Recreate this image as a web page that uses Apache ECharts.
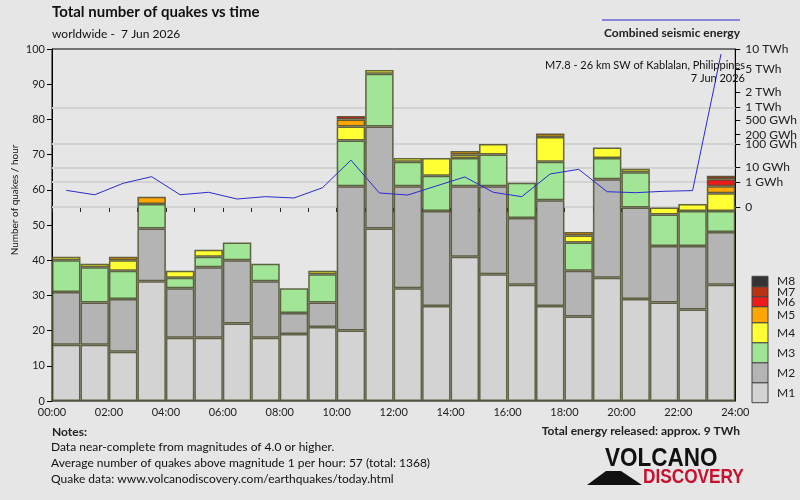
<!DOCTYPE html>
<html>
<head>
<meta charset="utf-8">
<script src="https://cdn.jsdelivr.net/npm/echarts@6/dist/echarts.min.js"></script>
<style>
html,body{margin:0;padding:0;background:#e6e6e6;}
#chart{width:800px;height:500px;}
</style>
</head>
<body>
<div id="chart"></div>
<script>
// ---- data ----
const hourCategories = ['00','01','02','03','04','05','06','07','08','09','10','11','12','13','14','15','16','17','18','19','20','21','22','23'];
const xTickLabels = ['00:00','02:00','04:00','06:00','08:00','10:00','12:00','14:00','16:00','18:00','20:00','22:00','24:00'];
const m1 = [16,16,14,34,18,18,22,18,19,21,20,49,32,27,41,36,33,27,24,35,29,28,26,33];
const m2 = [15,12,15,15,14,20,18,16,6,7,41,29,29,27,20,25,19,30,13,28,26,16,18,15];
const m3 = [9,10,8,7,3,3,5,5,7,8,13,15,7,10,8,9,10,11,8,6,10,9,10,6];
const m4 = [1,1,3,0,2,2,0,0,0,1,4,1,1,5,1,3,0,7,2,3,1,2,2,5];
const m5 = [0,0,1,2,0,0,0,0,0,0,2,0,0,0,1,0,0,1,1,0,0,0,0,2];
const m6 = [0,0,0,0,0,0,0,0,0,0,1,0,0,0,0,0,0,0,0,0,0,0,0,2];
const m7 = [0,0,0,0,0,0,0,0,0,0,0,0,0,0,0,0,0,0,0,0,0,0,0,1];
const m8 = [0,0,0,0,0,0,0,0,0,0,0,0,0,0,0,0,0,0,0,0,0,0,0,0];
// combined seismic energy per hour, in GWh
const energyGWh = [0.13,0.028,0.76,2.6,0.028,0.07,0.0033,0.012,0.006,0.27,23,0.055,0.025,0.42,2.5,0.07,0.012,4.0,7.7,0.085,0.061,0.097,0.12,8500];
const energyTicksGWh = [0,1,10,100,200,500,1000,2000,5000,10000];
const energyTickLabels = ['0','1 GWh','10 GWh','100 GWh','200 GWh','500 GWh','1 TWh','2 TWh','5 TWh','10 TWh'];
const energyGridGWh = [0,1,10,100,1000];
const quakeTicks = [0,10,20,30,40,50,60,70,80,90,100];

const magNames = ['M1','M2','M3','M4','M5','M6','M7','M8'];
const magColors = ['#d3d3d3','#b4b4b4','#a0e696','#ffff33','#ffa500','#ee1a1a','#b83214','#333333'];
const magData = [m1,m2,m3,m4,m5,m6,m7,m8];

// ---- helpers ----
const tf = e => Math.pow(e, 0.2);
const tMax = tf(10000);
const zeroFrac = (401 - 207) / 352;
const tMin = -tMax * zeroFrac / (1 - zeroFrac);
const FONT = 'Lato';

const chart = echarts.init(document.getElementById('chart'), null, {renderer:'canvas'});

const barSeries = magData.map((d, i) => ({
  name: magNames[i], type: 'bar', stack: 'q', xAxisIndex: 0, yAxisIndex: 0,
  data: d.map(v => (v === 0 ? '-' : v)), barWidth: '100%', z: 3,
  itemStyle: {color: magColors[i], borderColor: 'rgba(75,75,45,0.85)', borderWidth: 1.5},
  emphasis: {disabled: true}, silent: true
}));

const option = {
  backgroundColor: '#e6e6e6',
  animation: false,
  textStyle: {fontFamily: FONT},
  grid: {left: 52, right: 60, top: 49, bottom: 99, show: true, borderColor: '#000', borderWidth: 1, backgroundColor: 'transparent'},
  xAxis: [
    {type: 'category', data: hourCategories, boundaryGap: true, show: false},
    {type: 'value', min: 0, max: 24, interval: 1, position: 'bottom',
     axisLine: {show: true, lineStyle: {color: '#333', width: 2}},
     axisTick: {show: true, length: 5, lineStyle: {color: '#222'}},
     axisLabel: {fontSize: 11, color: '#222', fontFamily: FONT, margin: 6,
       formatter: v => (v % 2 === 0 ? xTickLabels[v / 2] : '')},
     splitLine: {show: false}}
  ],
  yAxis: [
    {type: 'value', min: 0, max: 100, interval: 10, position: 'left',
     axisLine: {show: true, lineStyle: {color: '#000'}},
     axisTick: {show: true, length: 5, lineStyle: {color: '#000'}},
     axisLabel: {fontSize: 11, color: '#222', fontFamily: FONT, margin: 7,
       formatter: v => String(quakeTicks[Math.round(v / 10)])},
     splitLine: {show: false}},
    {type: 'value', min: tMin, max: tMax, position: 'right',
     axisLine: {show: true, lineStyle: {color: '#000'}},
     axisTick: {show: true, length: 5, lineStyle: {color: '#000'}, customValues: energyTicksGWh.map(tf)},
     axisLabel: {fontSize: 12, color: '#222', fontFamily: FONT, margin: 10,
       customValues: energyTicksGWh.map(tf),
       formatter: v => {
         let best = 0, bd = 1e9;
         energyTicksGWh.forEach((e, i) => { const d = Math.abs(tf(e) - v); if (d < bd) { bd = d; best = i; } });
         return energyTickLabels[best];
       }},
     splitLine: {show: false}}
  ],
  series: [
    {type: 'line', name: 'grid', xAxisIndex: 0, yAxisIndex: 1, data: [], z: 1, silent: true,
     markLine: {silent: true, symbol: 'none', z: 1, label: {show: false},
       lineStyle: {color: '#d2d2d2', width: 2, type: 'solid'},
       data: energyGridGWh.map(e => ({yAxis: tf(e)}))}},
    ...barSeries,
    {type: 'line', name: 'Combined seismic energy', xAxisIndex: 0, yAxisIndex: 1,
     data: energyGWh.map(tf), showSymbol: false, symbol: 'none', z: 5, silent: true,
     lineStyle: {color: '#2b2bd0', width: 1}}
  ],
  graphic: [
    {type: 'text', left: 52, top: 5, style: {text: 'Total number of quakes vs time', font: 'bold 15px ' + FONT, fill: '#111'}},
    {type: 'text', left: 52, top: 28, style: {text: 'worldwide -  7 Jun 2026', font: '12px ' + FONT, fill: '#111'}},
    {type: 'line', shape: {x1: 602, y1: 20, x2: 740, y2: 20}, style: {stroke: '#2b2bd0', lineWidth: 1}},
    {type: 'text', x: 740, y: 33, style: {text: 'Combined seismic energy', font: 'bold 12px ' + FONT, fill: '#222', align: 'right', verticalAlign: 'middle'}},
    {type: 'text', x: 745, y: 65, style: {text: 'M7.8 - 26 km SW of Kablalan, Philippines', font: '11px ' + FONT, fill: '#111', align: 'right', verticalAlign: 'middle'}, z: 10},
    {type: 'text', x: 745, y: 78, style: {text: '7 Jun 2026', font: '11px ' + FONT, fill: '#111', align: 'right', verticalAlign: 'middle'}, z: 10},
    {type: 'text', x: 15, y: 200, rotation: Math.PI / 2, style: {text: 'Number of quakes / hour', font: '10px ' + FONT, fill: '#111', align: 'center', verticalAlign: 'middle'}},
    // magnitude legend
    ...(() => {
      const tops = [382.7, 362.7, 342.7, 322.7, 306.7, 296.7, 286.7, 276.3];
      const bottoms = [402.7, 382.7, 362.7, 342.7, 322.7, 306.7, 296.7, 286.7];
      const els = [];
      for (let i = 0; i < 8; i++) {
        els.push({type: 'rect', shape: {x: 752, y: tops[i], width: 16, height: bottoms[i] - tops[i]},
          style: {fill: magColors[i], stroke: '#444', lineWidth: 1}});
        els.push({type: 'text', x: 777, y: (tops[i] + bottoms[i]) / 2, style: {text: magNames[i], font: '12px ' + FONT, fill: '#222', verticalAlign: 'middle'}});
      }
      return els;
    })(),
    {type: 'text', x: 52, y: 432, style: {text: 'Notes:', font: 'bold 12px ' + FONT, fill: '#222', verticalAlign: 'middle'}},
    {type: 'text', x: 51, y: 447, style: {text: 'Data near-complete from magnitudes of 4.0 or higher.', font: '12px ' + FONT, fill: '#111', verticalAlign: 'middle'}},
    {type: 'text', x: 51, y: 463, style: {text: 'Average number of quakes above magnitude 1 per hour: 57 (total: 1368)', font: '12px ' + FONT, fill: '#111', verticalAlign: 'middle'}},
    {type: 'text', x: 51, y: 479, style: {text: 'Quake data: www.volcanodiscovery.com/earthquakes/today.html', font: '12px ' + FONT, fill: '#111', verticalAlign: 'middle'}},
    {type: 'text', x: 740, y: 431, style: {text: 'Total energy released: approx. 9 TWh', font: 'bold 12px ' + FONT, fill: '#222', align: 'right', verticalAlign: 'middle'}},
    // logo
    {type: 'polygon', shape: {points: [[587, 485], [606, 471], [621, 471], [642, 485]]}, style: {fill: '#111'}},
    {type: 'text', x: 605, y: 459, scaleX: 0.9, style: {text: 'VOLCANO', font: 'bold 25px "Liberation Sans"', fill: '#111', verticalAlign: 'middle'}},
    {type: 'text', x: 643, y: 477, scaleX: 0.82, style: {text: 'DISCOVERY', font: 'bold 21px "Liberation Sans"', fill: '#c8102e', verticalAlign: 'middle'}}
  ]
};
chart.setOption(option);
</script>
</body>
</html>
